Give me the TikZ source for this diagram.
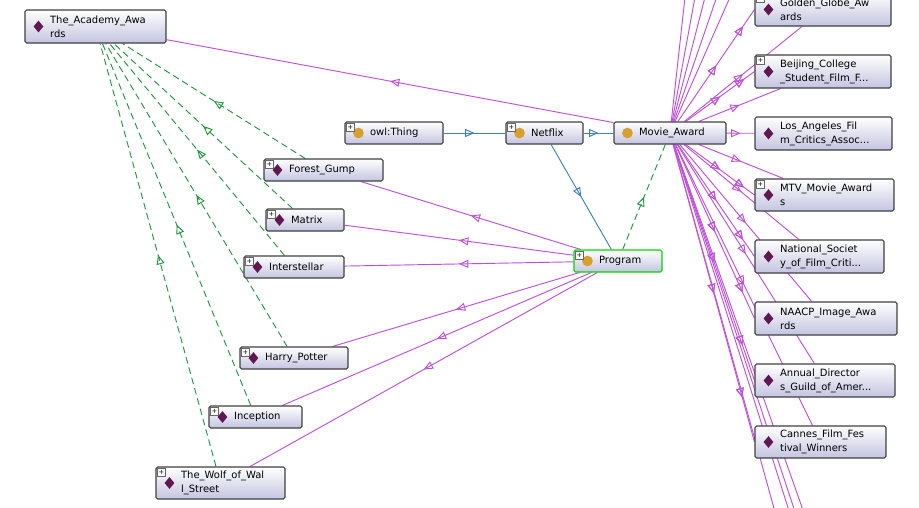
\documentclass[tikz,border=0pt]{standalone}
\usepackage{fontspec}
\setmainfont{DejaVu Sans}
\usetikzlibrary{fit,arrows.meta,decorations.markings,shapes.geometric,backgrounds}
\definecolor{pur}{RGB}{190,80,220}
\definecolor{grn}{RGB}{40,190,80}
\definecolor{blu}{RGB}{60,130,190}
\definecolor{dia}{RGB}{95,25,80}
\definecolor{gold}{RGB}{215,160,45}
\begin{document}
\begin{tikzpicture}[x=0.75pt,y=-0.75pt,
 box/.style={draw=black!75,line width=0.8pt,rounded corners=1.2pt,inner sep=0pt,top color=white,bottom color={rgb,255:red,196;green,196;blue,224}},
 lbl/.style={font=\fontsize{7.5}{10.5}\selectfont,align=left,inner sep=0pt,anchor=west},
 ind/.style={diamond,fill=dia,inner sep=0pt,minimum width=7.5pt,minimum height=9pt},
 cls/.style={circle,fill=gold,inner sep=0pt,minimum size=8pt},
 plus/.style={draw=black!60,fill=white,inner sep=0pt,minimum size=5.5pt,font=\fontsize{5}{5}\selectfont,anchor=north west,xshift=1.5pt,yshift=-1.5pt},
 mid/.style={postaction={decorate},decoration={markings,mark=at position #1 with {\arrow{Triangle[open,length=7pt,width=6pt]}}}},
 mid/.default=0.5,
 pe/.style={pur,line width=0.7pt,mid},
 ge/.style={grn!80!black,dash pattern=on 5pt off 3pt,line width=0.7pt,mid},
 be/.style={blu,line width=0.7pt,mid}]
\useasboundingbox (0,0) rectangle (919,507);
\clip (0,0) rectangle (919,507);
\newcommand\bx[8]{%
 \node[box,fit={(#2,#3)(#4,#5)}] (#1) {};
 \node[#6] (#1i) at ([xshift=10.5pt]#1.west) {};
 \node[lbl] (#1t) at ([xshift=19pt]#1.west) {#7};
 \if\relax\detokenize{#8}\relax\else\node[plus] (#1p) at (#1.north west) {+};\fi}
\bx{aa}{25}{10}{166}{43}{ind}{The\_Academy\_Awa\\rds}{}
\bx{ot}{345}{122}{443}{144}{cls}{owl:Thing}{p}
\bx{nf}{506}{122}{583}{144}{cls}{Netflix}{p}
\bx{ma}{614}{122}{726}{144}{cls}{Movie\_Award}{}
\bx{fg}{264}{159}{383}{181}{ind}{Forest\_Gump}{p}
\bx{mx}{266}{209}{344}{231}{ind}{Matrix}{p}
\bx{is}{244}{256}{344}{278}{ind}{Interstellar}{p}
\bx{hp}{240}{347}{348}{369}{ind}{Harry\_Potter}{p}
\bx{ic}{209}{406}{302}{428}{ind}{Inception}{p}
\bx{ww}{156}{467}{285}{499}{ind}{The\_Wolf\_of\_Wal\\l\_Street}{p}
\bx{gg}{755}{-7}{891}{26}{ind}{Golden\_Globe\_Aw\\ards}{p}
\bx{bj}{755}{55}{891}{88}{ind}{Beijing\_College\\\_Student\_Film\_F...}{p}
\bx{la}{755}{117}{892}{150}{ind}{Los\_Angeles\_Fil\\m\_Critics\_Assoc...}{}
\bx{mtv}{755}{179}{894}{211}{ind}{MTV\_Movie\_Award\\s}{p}
\bx{ns}{755}{240}{884}{273}{ind}{National\_Societ\\y\_of\_Film\_Criti...}{}
\bx{na}{755}{302}{897}{335}{ind}{NAACP\_Image\_Awa\\rds}{}
\bx{ad}{755}{364}{895}{397}{ind}{Annual\_Director\\s\_Guild\_of\_Amer...}{}
\bx{cf}{755}{426}{886}{458}{ind}{Cannes\_Film\_Fes\\tival\_Winners}{}
\node[box,draw=green!85!black,fit={(574,250)(662,272)}] (pg) {};
\node[cls] (pgi) at ([xshift=10.5pt]pg.west) {};
\node[lbl] (pgt) at ([xshift=19pt]pg.west) {Program};
\node[plus] (pgp) at (pg.north west) {+};
\coordinate (t1) at (688,-30);\coordinate (t2) at (700,-30);\coordinate (t3) at (712,-30);
\coordinate (t4) at (726,-30);\coordinate (t5) at (742,-30);
\coordinate (b1) at (780,530);\coordinate (b2) at (795,530);\coordinate (b3) at (801,530);\coordinate (b4) at (810,530);
\begin{scope}[on background layer]
\draw[be] (ot) -- (nf);
\draw[be] (nf) -- (ma);
\draw[be] (nf) -- (pg);
\draw[ge] (pg) -- (ma);
\draw[pe] (ma) -- (aa);
\foreach \n in {fg,mx,is,hp,ic,ww}{\draw[pe] (pg) -- (\n); \draw[ge] (\n) -- (aa);}
\foreach \n in {gg,bj,la,mtv,ns,na,ad,cf}{\draw[pe] (ma) -- (\n);}
\foreach \n in {gg,bj,mtv,ns,na,ad,cf}{\draw[pe,mid=0.85] (ma) -- (\n.west);}
\foreach \n in {t1,t2,t3,t4,t5,b1,b2,b3,b4}{\draw[pur,line width=0.7pt] (ma) -- (\n);}
\end{scope}
\end{tikzpicture}
\end{document}
